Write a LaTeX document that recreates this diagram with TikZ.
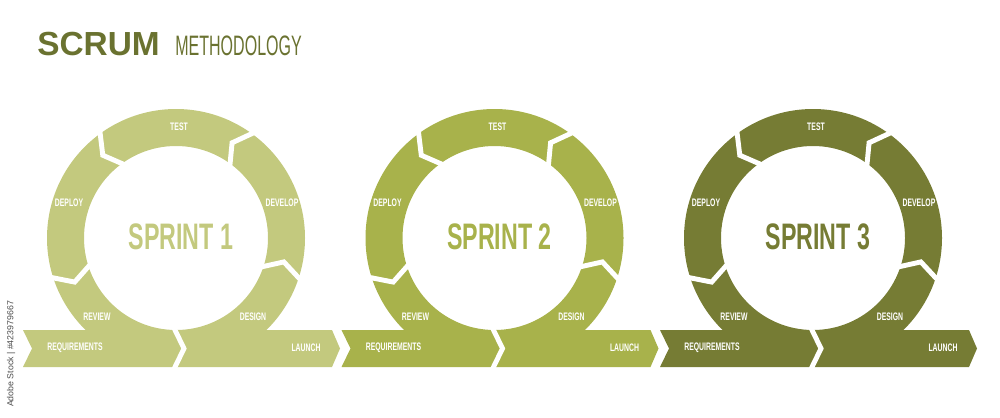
\documentclass[tikz,border=0pt]{standalone}
\usepackage{fontspec}
\setmainfont{Liberation Sans}
\newfontfamily\condfont{Liberation Sans}[FakeStretch=0.63]
\newfontfamily\thinfont{Liberation Sans}[FakeStretch=0.57]
\definecolor{sprintA}{HTML}{C3C97E}
\definecolor{sprintB}{HTML}{A8B24B}
\definecolor{sprintC}{HTML}{767C34}
\definecolor{titlegreen}{HTML}{6A7230}

\begin{document}
\begin{tikzpicture}[x=0.02cm, y=0.02cm,
    lbl/.style = {text=white, inner sep=0pt, font=\condfont\bfseries\fontsize{6.2}{7}\selectfont},
    big/.style = {inner sep=0pt, font=\condfont\bfseries\fontsize{21}{24}\selectfont},
    gap/.style = {draw=white, line width=2.8pt, line cap=rect, miter limit=20}]
    \useasboundingbox (0,0) rectangle (1000,417);
    % title
    \node[anchor=base west, inner sep=0pt, text=titlegreen, font=\bfseries\fontsize{19}{22}\selectfont] (scrum) at (37,362) {SCRUM};
    \node[anchor=base west, inner sep=0pt, text=titlegreen, font=\thinfont\fontsize{16}{18}\selectfont] (method) at (175,362) {METHODOLOGY};
    \node[rotate=90, inner sep=0pt, text=black!70, font=\fontsize{5}{6}\selectfont] (stock) at (11,63) {Adobe Stock | \#423979667};
    % sprints
    \foreach \i/\col in {1/sprintA, 2/sprintB, 3/sprintC} {
      \begin{scope}[shift={({176+318.5*(\i-1)},179)}]
        \fill[\col, even odd rule] (0,0) circle[radius=129] (0,0) circle[radius=92];
        \fill[\col] (-153,-92) -- (156,-92) -- (164,-110.5) -- (156,-129) -- (-153,-129) -- (-144,-110.5) -- cycle;
        \foreach \a in {-18,54,126,198}
          \draw[gap] (\a:129) -- (\a+5.5:110.5) -- (\a:92);
        \draw[gap] (-1,-92) -- (8,-110.5) -- (-1,-129);
        \node[big, text=\col] (sprint\i) at (5,1) {SPRINT \i};
        \node[lbl] (test\i) at (3,111) {TEST};
        \node[lbl] (develop\i) at (106,35) {DEVELOP};
        \node[lbl] (deploy\i) at (-107,35) {DEPLOY};
        \node[lbl] (design\i) at (77,-79) {DESIGN};
        \node[lbl] (review\i) at (-79,-79) {REVIEW};
        \node[lbl] (req\i) at (-101,-110) {REQUIREMENTS};
        \node[lbl] (launch\i) at (130,-110) {LAUNCH};
      \end{scope}
    }
\end{tikzpicture}
\end{document}
